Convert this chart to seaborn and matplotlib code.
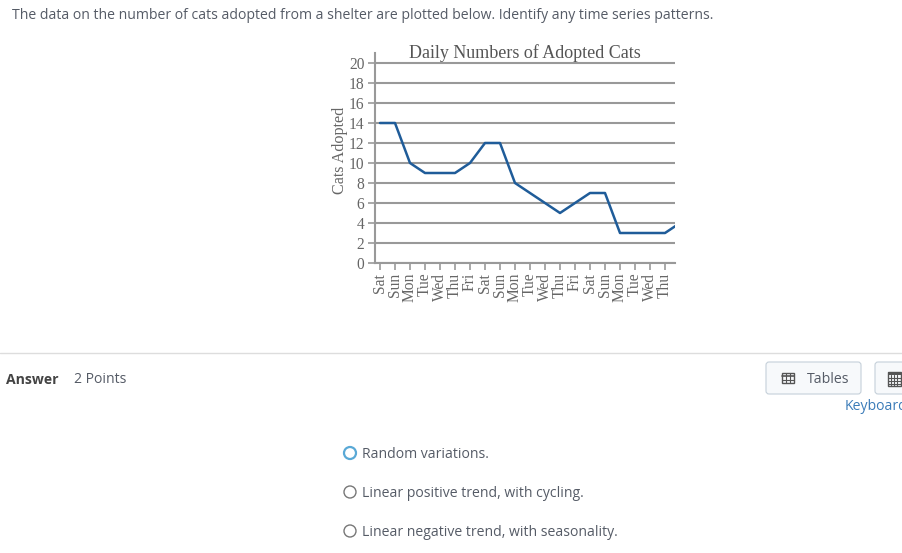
# -*- coding: utf-8 -*-
import pandas as pd
import seaborn as sns
import matplotlib.pyplot as plt
from matplotlib.patches import Circle, FancyBboxPatch, Rectangle

# data (last point is cut off by the right edge of the axes)
days = ["Sat", "Sun", "Mon", "Tue", "Wed", "Thu", "Fri", "Sat", "Sun", "Mon",
        "Tue", "Wed", "Thu", "Fri", "Sat", "Sun", "Mon", "Tue", "Wed", "Thu"]
adopted = [14, 14, 10, 9, 9, 9, 10, 12, 12, 8, 7, 6, 5, 6, 7, 7, 3, 3, 3, 3, 4]
y_ticks = [0, 2, 4, 6, 8, 10, 12, 14, 16, 18, 20]
answers = ["Random variations.", "Linear positive trend, with cycling.",
           "Linear negative trend, with seasonality."]

W, H = 902, 553
PAGE_FONT = "Open Sans"
CHART_FONT = "Liberation Serif"
TEXT = "#555b66"
CHART_TEXT = "#666666"
GRID = "#999999"
PAGE_SIZE = 10.08

sns.set_style("white")
fig = plt.figure(figsize=(W / 100, H / 100), dpi=100)

# page layer, in pixel coordinates
page = fig.add_axes([0, 0, 1, 1])
page.set_xlim(0, W)
page.set_ylim(H, 0)
page.axis("off")

page.text(12, 19, "The data on the number of cats adopted from a shelter are plotted below. Identify any time series patterns.",
          family=PAGE_FONT, fontsize=PAGE_SIZE, color=TEXT, va="baseline")
page.plot([0, W], [353, 353], color="#dddddd", lw=1)
page.text(6, 384, "Answer", family=PAGE_FONT, fontsize=PAGE_SIZE, weight="bold", color="#444444", va="baseline")
page.text(74, 383, "2 Points", family=PAGE_FONT, fontsize=PAGE_SIZE, color=TEXT, va="baseline")

# buttons
for bx, bw in [(766, 95), (875, 60)]:
    page.add_patch(FancyBboxPatch((bx, 362), bw, 32, boxstyle="round,pad=0,rounding_size=3",
                                  fc="#f7f9fb", ec="#c5d0da", lw=0.8))
page.text(807, 383, "Tables", family=PAGE_FONT, fontsize=PAGE_SIZE, color=TEXT, va="baseline")
page.text(845, 410, "Keyboard", family=PAGE_FONT, fontsize=PAGE_SIZE, color="#3a7bb8", va="baseline")

# table and calculator icons
page.add_patch(Rectangle((782, 373), 12, 10, fc="none", ec="#555555", lw=1))
page.plot([782, 794], [376, 376], color="#555555", lw=1.2)
page.plot([782, 794], [379.5, 379.5], color="#555555", lw=0.8)
page.plot([786, 786], [373, 383], color="#555555", lw=0.8)
page.plot([790, 790], [373, 383], color="#555555", lw=0.8)
page.add_patch(Rectangle((888, 372), 13, 14, fc="none", ec="#555555", lw=1))
page.add_patch(Rectangle((888, 372), 13, 3, fc="#555555", ec="none"))
for gy in [378, 381, 384]:
    page.plot([888, 901], [gy, gy], color="#555555", lw=0.8)
for gx in [891, 894, 897]:
    page.plot([gx, gx], [375, 386], color="#555555", lw=0.8)

# radio buttons
for i, (label, ry) in enumerate(zip(answers, [453, 492, 531])):
    if i == 0:
        page.add_patch(Circle((350, ry), 6, fc="white", ec="#5aa9d6", lw=1.6))
    else:
        page.add_patch(Circle((350, ry), 6, fc="white", ec="#777777", lw=1))
    page.text(362, ry + 5, label, family=PAGE_FONT, fontsize=PAGE_SIZE, color=TEXT, va="baseline")

# chart
ax = fig.add_axes([375 / W, 1 - 263 / H, 300 / W, 210 / H])
ax.patch.set_alpha(0)
df = pd.DataFrame({"day": range(len(adopted)), "adopted": adopted})
sns.lineplot(data=df, x="day", y="adopted", ax=ax, color="#1f5c99", lw=1.8, zorder=3)

ax.set_xlim(-1 / 3, 19 + 2 / 3)
ax.set_ylim(0, 21)
ax.set_yticks(y_ticks)
ax.set_xticks(range(len(days)))
ax.set_xticklabels(days, rotation=90, family=CHART_FONT, fontsize=11.2, color=CHART_TEXT)
ax.set_yticklabels([str(v) for v in y_ticks], family=CHART_FONT, fontsize=11.2, color=CHART_TEXT)
ax.tick_params(axis="x", length=5, width=1.2, color=GRID, pad=2, bottom=True)
ax.tick_params(axis="y", length=5, width=1.2, color=GRID, pad=2.5, left=True)
ax.grid(axis="y", color=GRID, lw=1.5, zorder=1)
ax.grid(axis="x", visible=False)
for side in ["top", "right"]:
    ax.spines[side].set_visible(False)
for side in ["left", "bottom"]:
    ax.spines[side].set_color(GRID)
    ax.spines[side].set_linewidth(1.5)

ax.set_xlabel("")
ax.set_ylabel("Cats Adopted", family=CHART_FONT, fontsize=11.6, color=CHART_TEXT)
ax.yaxis.set_label_coords(-0.09, 0.535)
ax.set_title("Daily Numbers of Adopted Cats", family=CHART_FONT, fontsize=13, color="#555555", x=0.5, y=0.975, pad=0)

fig.savefig("out.png", dpi=100)
